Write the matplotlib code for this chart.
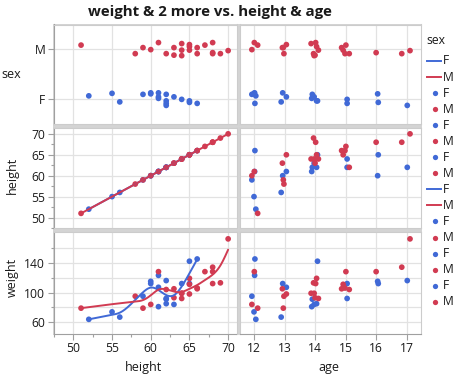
import numpy as np
import matplotlib
matplotlib.use('Agg')
import matplotlib.pyplot as plt
from matplotlib.lines import Line2D
from matplotlib.patches import Rectangle

# ---------------- data (JMP Big Class) ----------------
names = ["KATIE", "LOUISE", "JANE", "JACLYN", "LILLIE", "TIM", "JAMES", "ROBERT",
         "BARBARA", "ALICE", "SUSAN", "JOHN", "JOE", "MICHAEL", "DAVID",
         "JUDY", "ELIZABETH", "LESLIE", "CAROL", "PATTY", "FREDERICK", "ALFRED",
         "HENRY", "LEWIS", "EDWARD", "CHRIS", "JEFFREY",
         "MARY", "AMY", "ROBERT", "WILLIAM", "CLAY", "MARK", "DANNY",
         "MARTHA", "MARION", "PHILLIP", "LINDA", "KIRK", "LAWRENCE"]
age = [12, 12, 12, 12, 12, 12, 12, 12,
       13, 13, 13, 13, 13, 13, 13,
       14, 14, 14, 14, 14, 14, 14, 14, 14, 14, 14, 14,
       15, 15, 15, 15, 15, 15, 15,
       16, 16, 16, 17, 17, 17]
sex = ["F", "F", "F", "F", "F", "M", "M", "M",
       "F", "F", "F", "M", "M", "M", "M",
       "F", "F", "F", "F", "F", "M", "M", "M", "M", "M", "M", "M",
       "F", "F", "M", "M", "M", "M", "M",
       "F", "F", "M", "F", "M", "M"]
height = [59, 61, 55, 66, 52, 60, 61, 51,
          60, 61, 56, 65, 63, 58, 59,
          61, 62, 65, 63, 62, 63, 64, 65, 64, 68, 64, 69,
          62, 64, 67, 65, 66, 62, 66,
          65, 60, 68, 62, 68, 70]
weight = [95, 123, 74, 145, 64, 84, 128, 79,
          112, 107, 67, 98, 105, 95, 79,
          81, 91, 142, 84, 85, 93, 99, 119, 92, 112, 99, 113,
          92, 112, 128, 111, 105, 104, 106,
          112, 115, 128, 116, 134, 172]
# jitter offsets as seen in the picture (categorical / ordinal axes)
sex_jitter = [0.10, 0.13, 0.12, -0.08, 0.07, -0.01, 0.13, 0.08,
              0.13, 0.05, -0.05, 0.09, 0.03, -0.09, 0.03,
              0.02, 0.10, -0.03, 0.05, -0.03, -0.12, 0.11, 0.05, -0.02, 0.13, -0.13, -0.09,
              -0.08, 0.00, 0.08, -0.02, 0.03, -0.09, -0.09,
              -0.06, 0.11, -0.07, -0.12, -0.09, -0.03]
age_jitter = [-0.07, 0.02, 0.00, 0.03, 0.06, -0.07, 0.01, 0.12,
              -0.06, 0.06, -0.11, 0.06, -0.07, -0.02, -0.04,
              -0.11, -0.09, 0.08, -0.03, 0.05, 0.00, -0.13, 0.05, 0.11, 0.02, -0.03, -0.05,
              0.05, 0.05, 0.01, -0.08, -0.13, 0.12, -0.02,
              0.07, 0.05, 0.00, 0.02, -0.16, 0.11]
sex_levels = ["F", "M"]

age = np.array(age, float); height = np.array(height, float); weight = np.array(weight, float)
sex = np.array(sex)
sex_code = np.array([sex_levels.index(s) for s in sex], float)
sex_y = sex_code + np.array(sex_jitter)
age_x = age + np.array(age_jitter)

colors = {"F": "#4069D6", "M": "#D13B52"}

plt.rcParams['font.family'] = ['Open Sans', 'DejaVu Sans']

W, H = 474, 378
fig = plt.figure(figsize=(W / 100, H / 100), dpi=100)


def px_axes(x0, y0, x1, y1):
    return fig.add_axes([x0 / W, 1 - y1 / H, (x1 - x0) / W, (y1 - y0) / H])


def smoothing_spline(x, y, lam=0.05, npts=200):
    x = np.asarray(x, float); y = np.asarray(y, float)
    m, s = x.mean(), x.std(ddof=1)
    u = (x - m) / s
    uu = np.unique(u)
    w = np.array([np.sum(u == v) for v in uu], float)
    yb = np.array([y[u == v].mean() for v in uu])
    n = len(uu)
    h = np.diff(uu)
    Q = np.zeros((n, n - 2)); R = np.zeros((n - 2, n - 2))
    for j in range(1, n - 1):
        Q[j - 1, j - 1] = 1 / h[j - 1]
        Q[j, j - 1] = -1 / h[j - 1] - 1 / h[j]
        Q[j + 1, j - 1] = 1 / h[j]
        R[j - 1, j - 1] = (h[j - 1] + h[j]) / 3
        if j < n - 2:
            R[j - 1, j] = h[j] / 6
            R[j, j - 1] = h[j] / 6
    K = Q @ np.linalg.solve(R, Q.T)
    f = np.linalg.solve(np.diag(w) + lam * K, w * yb)
    g = np.zeros(n)
    g[1:-1] = np.linalg.solve(R, Q.T @ f)
    ug = np.linspace(uu[0], uu[-1], npts)
    out = np.empty(npts)
    for k, t in enumerate(ug):
        i = min(np.searchsorted(uu, t, side='right') - 1, n - 2)
        i = max(i, 0)
        hi = h[i]
        a = t - uu[i]; b = uu[i + 1] - t
        out[k] = (a * f[i + 1] + b * f[i]) / hi - a * b / 6 * ((1 + a / hi) * g[i + 1] + (1 + b / hi) * g[i])
    return ug * s + m, out


# geometry (pixels)
cols = [(53.5, 236.5), (239.5, 421.0)]
rows = [(24.5, 124.5), (128.0, 228.0), (231.5, 333.5)]
xlims = [(47.44, 71.08), (11.525, 17.47)]
ylims = [(-0.50, 1.49), (47.7, 71.4), (44.97, 181.9)]

sep_color = '#d4d4d4'
border_color = '#cccccc'
axis_color = '#a0a0a0'
grid_color = '#e2e2e2'
text_color = '#1a1a1a'

bg = Rectangle((52.5 / W, 1 - 334.5 / H), (422 - 52.5) / W, (334.5 - 23.5) / H,
               transform=fig.transFigure, facecolor=sep_color, edgecolor='none', zorder=-5)
fig.add_artist(bg)

xdata = [height, age_x]
ydata = [sex_y, height, weight]

tick_fs = 8.7
for r in range(3):
    for c in range(2):
        x0, x1 = cols[c]; y0, y1 = rows[r]
        ax = px_axes(x0, y0, x1, y1)
        ax.set_zorder(1)
        ax.set_facecolor('white')
        ax.set_xlim(*xlims[c]); ax.set_ylim(*ylims[r])
        for sp in ax.spines.values():
            sp.set_color(border_color); sp.set_linewidth(0.8)
        # ticks
        if c == 0:
            ax.set_xticks([50, 55, 60, 65, 70])
            ax.set_xticks(np.arange(47.5, 71, 2.5), minor=True)
        else:
            ax.set_xticks([12, 13, 14, 15, 16, 17])
            ax.set_xticks([], minor=True)
        if r == 0:
            ax.set_yticks([0, 1]); ax.set_yticklabels(sex_levels)
        elif r == 1:
            ax.set_yticks([50, 55, 60, 65, 70])
            ax.set_yticks(np.arange(47.5, 71, 2.5), minor=True)
        else:
            ax.set_yticks([60, 100, 140])
            ax.set_yticks([80, 120, 160], minor=True)
        ax.grid(True, which='major', color=grid_color, linewidth=0.9, zorder=0)
        if r == 2:
            ax.grid(True, which='minor', axis='y', color=grid_color, linewidth=0.9, zorder=0)
        ax.set_axisbelow(True)
        ax.tick_params(which='both', direction='out', color=axis_color, labelcolor=text_color,
                       labelsize=tick_fs, width=0.8)
        ax.tick_params(which='major', length=4, pad=2)
        ax.tick_params(which='minor', length=2.5)
        if c == 0:
            ax.spines['left'].set_color(axis_color)
        else:
            ax.tick_params(axis='y', which='both', left=False, labelleft=False)
        if r == 2:
            ax.spines['bottom'].set_color(axis_color)
        else:
            ax.tick_params(axis='x', which='both', bottom=False, labelbottom=False)

        xd = xdata[c]; yd = ydata[r]
        for s_ in sex_levels:
            msk = sex == s_
            ax.scatter(xd[msk], yd[msk], s=17, color=colors[s_], edgecolors='none', zorder=3)
        if c == 0 and r in (1, 2):
            for s_ in sex_levels:
                msk = sex == s_
                xs, ys = smoothing_spline(height[msk], yd[msk], lam=0.015)
                ax.plot(xs, ys, color=colors[s_], linewidth=1.4, zorder=4, solid_capstyle='round')

# titles and labels
fig.text(210 / W, 1 - 12 / H, "weight & 2 more vs. height & age", ha='center', va='center',
         fontsize=10.8, fontweight='bold', color=text_color)
fig.text(21 / W, 1 - 75 / H, "sex", ha='right', va='center', fontsize=9, color=text_color)
fig.text(12.5 / W, 1 - 175 / H, "height", ha='center', va='center', rotation=90, fontsize=9, color=text_color)
fig.text(12.5 / W, 1 - 277 / H, "weight", ha='center', va='center', rotation=90, fontsize=9, color=text_color)
fig.text(143.5 / W, 1 - 367 / H, "height", ha='center', va='center', fontsize=9, color=text_color)
fig.text(329 / W, 1 - 367 / H, "age", ha='center', va='center', fontsize=9, color=text_color)

# legend
fig.text(426 / W, 1 - 40 / H, "sex", ha='left', va='center', fontsize=8.7, color=text_color)
legend_kinds = (["line"] * 2 + ["dot"] * 6) * 2
legend_labels = sex_levels * 8
for i, (kind, lab) in enumerate(zip(legend_kinds, legend_labels)):
    yy = 1 - (61 + i * 16.05) / H
    if kind == "line":
        fig.lines.append(Line2D([427 / W, 440.5 / W], [yy, yy], transform=fig.transFigure,
                                color=colors[lab], linewidth=1.4))
    else:
        fig.lines.append(Line2D([434.5 / W], [yy], transform=fig.transFigure, marker='o',
                                markersize=3.8, markeredgewidth=0, color=colors[lab], linestyle='none'))
    fig.text(443 / W, yy, lab, ha='left', va='center', fontsize=8.7, color=text_color)

fig.savefig("out.png", dpi=100, facecolor='white')
